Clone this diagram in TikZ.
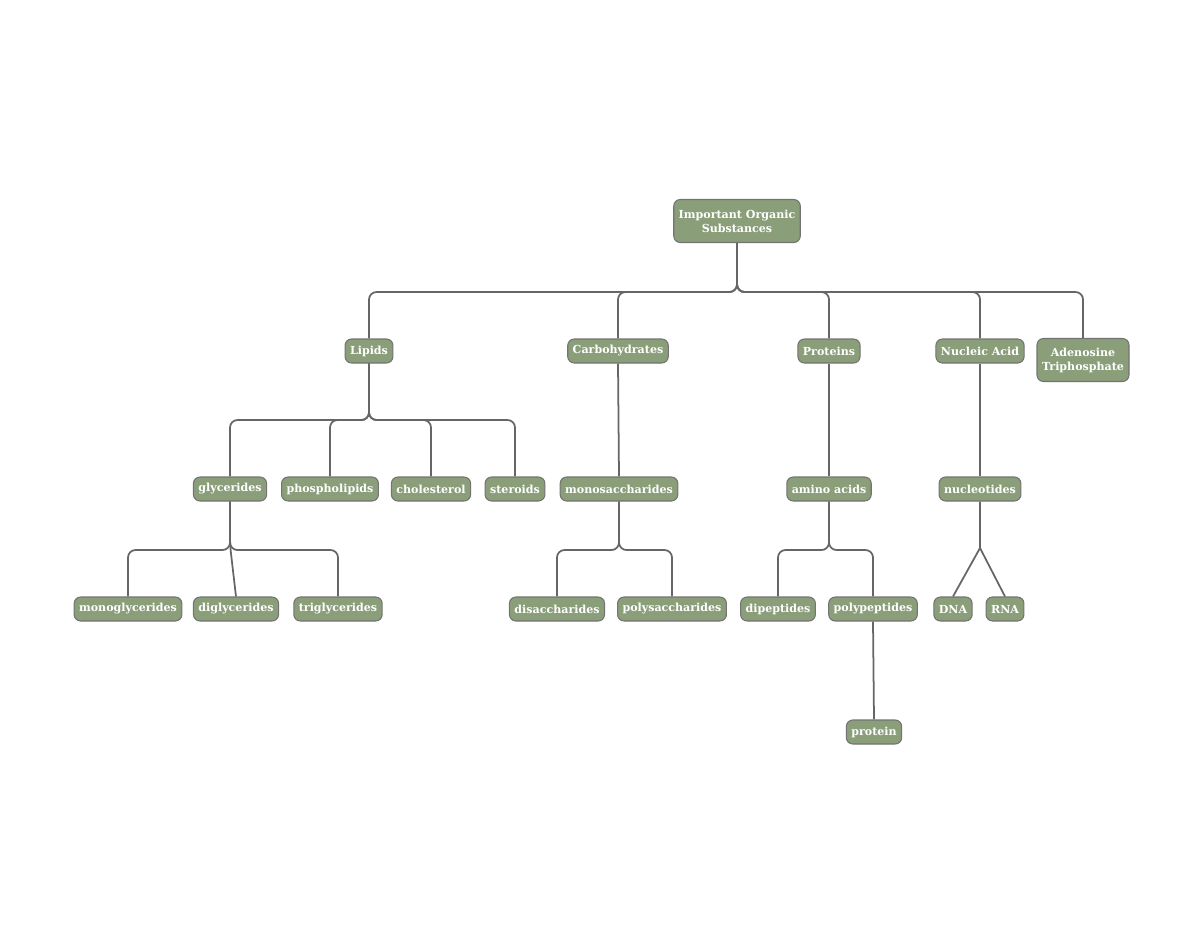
\documentclass[tikz,border=0pt]{standalone}
\usepackage{fontspec}
\setmainfont{DejaVu Serif}
\begin{document}
\begin{tikzpicture}[x=0.02cm,y=-0.02cm,
  box/.style={draw=black!55,fill=green!15!black!45!white,fill=boxc,line width=0.6pt,rounded corners=0.13cm,text=white,font=\fontsize{6.3}{8}\selectfont\bfseries,inner xsep=0.1cm,minimum height=0.48cm,align=center},
  conn/.style={draw=black!60,line width=1pt,rounded corners=0.15cm}]
\definecolor{boxc}{HTML}{8A9E7A}
\useasboundingbox (0,0) rectangle (1200,927);
\node[box,minimum height=0.86cm] (root) at (737,221) {Important Organic\\Substances};
\node[box] (lip) at (369,351) {Lipids};
\node[box] (carb) at (618,351) {Carbohydrates};
\node[box] (prot) at (829,351) {Proteins};
\node[box] (nuc) at (980,351) {Nucleic Acid};
\node[box,minimum height=0.86cm] (atp) at (1083,360) {Adenosine\\Triphosphate};
\node[box] (gly) at (230,489) {glycerides};
\node[box] (pho) at (330,489) {phospholipids};
\node[box] (cho) at (431,489) {cholesterol};
\node[box] (ste) at (515,489) {steroids};
\node[box] (mono) at (619,489) {monosaccharides};
\node[box] (amino) at (829,489) {amino acids};
\node[box] (nucl) at (980,489) {nucleotides};
\node[box] (mg) at (128,609) {monoglycerides};
\node[box] (dg) at (236,609) {diglycerides};
\node[box] (tg) at (338,609) {triglycerides};
\node[box] (di) at (557,609) {disaccharides};
\node[box] (poly) at (672,609) {polysaccharides};
\node[box] (dip) at (778,609) {dipeptides};
\node[box] (pp) at (873,609) {polypeptides};
\node[box] (dna) at (953,609) {DNA};
\node[box] (rna) at (1005,609) {RNA};
\node[box] (pr) at (874,732) {protein};
\foreach \c in {lip,carb,prot,nuc,atp}
  \draw[conn] (root.south) -- (root.south |- 0,292) -| (\c.north);
\foreach \c in {gly,pho,cho,ste}
  \draw[conn] (lip.south) -- (lip.south |- 0,420) -| (\c.north);
\foreach \c in {mg,tg}
  \draw[conn] (gly.south) -- (gly.south |- 0,550) -| (\c.north);
\coordinate (gj) at (gly.south |- 0,545);
\draw[conn] (gly.south) -- (gj) -- (dg.north);
\draw[conn] (carb.south) -- (mono.north);
\foreach \c in {di,poly}
  \draw[conn] (mono.south) -- (mono.south |- 0,550) -| (\c.north);
\draw[conn] (prot.south) -- (amino.north);
\foreach \c in {dip,pp}
  \draw[conn] (amino.south) -- (amino.south |- 0,550) -| (\c.north);
\draw[conn] (pp.south) -- (pr.north);
\draw[conn] (nuc.south) -- (nucl.north);
\coordinate (nj) at (nucl.south |- 0,548);
\draw[conn,rounded corners=0] (nucl.south) -- (nj) -- (dna.north);
\draw[conn,rounded corners=0] (nj) -- (rna.north);
\end{tikzpicture}
\end{document}
